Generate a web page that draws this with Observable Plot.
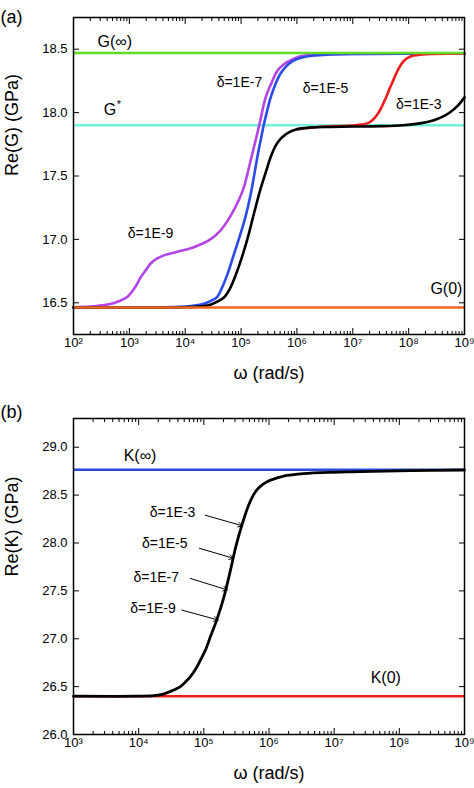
<!DOCTYPE html>
<html>
<head>
<meta charset="utf-8">
<script src="https://cdn.jsdelivr.net/npm/d3@7"></script>
<script src="https://cdn.jsdelivr.net/npm/@observablehq/plot@0.6"></script>
<style>
  body { margin: 0; background: #fff; }
  #wrap { width: 474px; height: 788px; overflow: hidden; }
  #wrap svg { display: block; }
</style>
</head>
<body>
<div id="wrap"></div>
<script>
// Frequencies are stored as log10(ω).
// ---------- panel (a): Re(G) ----------
const omegaTicksA = [1e2, 1e3, 1e4, 1e5, 1e6, 1e7, 1e8, 1e9];
const gTicks = [16.5, 17.0, 17.5, 18.0, 18.5];
const gRefValues = [18.47, 17.90, 16.463];   // G(∞), G*, G(0)

// δ = 1E-3 (black)
const logWD3 = [2, 3.5, 4.0, 4.25, 4.45, 4.6, 4.7, 4.81, 4.93, 5.03, 5.13, 5.24, 5.35, 5.45, 5.53, 5.62, 5.71, 5.84, 6.0, 6.25, 6.6, 7, 7.5, 7.9, 8.2, 8.45, 8.62, 8.75, 8.88, 9];
const gD3 = [16.463, 16.463, 16.465, 16.47, 16.485, 16.515, 16.545, 16.62, 16.75, 16.88, 17.03, 17.22, 17.40, 17.54, 17.65, 17.74, 17.795, 17.84, 17.868, 17.882, 17.887, 17.89, 17.893, 17.90, 17.915, 17.94, 17.97, 18.005, 18.055, 18.12];
// δ = 1E-5 (red)
const logWD5 = [6.0, 6.5, 7.0, 7.15, 7.26, 7.35, 7.44, 7.5, 7.56, 7.62, 7.67, 7.73, 7.79, 7.85, 7.91, 8.0, 8.09, 8.25, 8.39, 9];
const gD5 = [17.87, 17.89, 17.897, 17.905, 17.915, 17.94, 17.985, 18.03, 18.085, 18.145, 18.20, 18.26, 18.32, 18.37, 18.405, 18.435, 18.45, 18.458, 18.462, 18.466];
// δ = 1E-7 (blue)
const logWD7 = [2, 3, 3.8, 4.0, 4.2, 4.35, 4.46, 4.57, 4.66, 4.76, 4.87, 4.98, 5.08, 5.16, 5.24, 5.3, 5.35, 5.41, 5.47, 5.53, 5.62, 5.71, 5.82, 5.94, 6.06, 6.3, 6.6, 7, 9];
const gD7 = [16.463, 16.463, 16.466, 16.47, 16.48, 16.495, 16.515, 16.545, 16.62, 16.73, 16.88, 17.03, 17.18, 17.33, 17.52, 17.67, 17.78, 17.91, 18.02, 18.12, 18.23, 18.31, 18.37, 18.41, 18.43, 18.45, 18.458, 18.462, 18.466];
// δ = 1E-9 (purple)
const logWD9 = [2, 2.3, 2.5, 2.66, 2.8, 2.96, 3.1, 3.2, 3.3, 3.38, 3.5, 3.62, 3.8, 3.92, 4.1, 4.27, 4.45, 4.63, 4.75, 4.87, 4.96, 5.05, 5.17, 5.29, 5.37, 5.44, 5.55, 5.65, 5.76, 5.88, 6.03, 6.3, 6.5, 9];
const gD9 = [16.465, 16.47, 16.48, 16.49, 16.51, 16.545, 16.62, 16.70, 16.76, 16.81, 16.85, 16.874, 16.895, 16.91, 16.93, 16.96, 17.0, 17.07, 17.14, 17.23, 17.31, 17.41, 17.62, 17.835, 17.99, 18.12, 18.24, 18.33, 18.38, 18.41, 18.44, 18.455, 18.46, 18.466];

const labelTextA = ["δ=1E-7", "δ=1E-5", "δ=1E-3", "δ=1E-9"];
const labelLogWA = [4.97, 6.51, 8.18, 3.38];
const labelValueA = [18.24, 18.19, 18.06, 17.05];
const refLabelTextA = ["G(∞)", "G", "G(0)"];
const refLabelLogWA = [2.43, 2.54, 8.39];
const refLabelValueA = [18.555, 18.02, 16.61];

// ---------- panel (b): Re(K) ----------
const omegaTicksB = [1e3, 1e4, 1e5, 1e6, 1e7, 1e8, 1e9];
const kTicks = [26.0, 26.5, 27.0, 27.5, 28.0, 28.5, 29.0];
const kRefValues = [28.765, 26.40];          // K(∞), K(0)
const logWK = [3, 4, 4.23, 4.36, 4.49, 4.64, 4.72, 4.80, 4.88, 4.95, 5.03, 5.10, 5.20, 5.31, 5.41, 5.49, 5.59, 5.69, 5.76, 5.82, 5.9, 5.97, 6.08, 6.18, 6.28, 6.64, 7.4, 8.17, 9];
const kAll = [26.40, 26.40, 26.405, 26.42, 26.45, 26.50, 26.55, 26.61, 26.69, 26.78, 26.89, 27.02, 27.20, 27.44, 27.72, 27.96, 28.20, 28.40, 28.50, 28.56, 28.61, 28.64, 28.67, 28.69, 28.705, 28.73, 28.745, 28.755, 28.762];

const arrowText = ["δ=1E-3", "δ=1E-5", "δ=1E-7", "δ=1E-9"];
const arrowTextLogW = [4.52, 4.40, 4.27, 4.22];
const arrowTextValue = [28.32, 27.99, 27.64, 27.32];
const arrowFromLogW = [5.02, 4.93, 4.79, 4.66];
const arrowFromValue = [28.29, 27.945, 27.63, 27.30];
const arrowToLogW = [5.59, 5.455, 5.36, 5.22];
const arrowToValue = [28.18, 27.84, 27.51, 27.195];
const refLabelTextB = ["K(∞)", "K(0)"];
const refLabelLogWB = [3.77, 7.56];
const refLabelValueB = [28.91, 26.59];

// ---------- helpers ----------
const SUP = "⁰¹²³⁴⁵⁶⁷⁸⁹";
const powLabel = d => "10" + String(Math.round(Math.log10(d))).split("").map(c => SUP[+c]).join("");
const minorTicks = (lo, hi) => {
  const out = [];
  for (let e = lo; e < hi; e++) for (let m = 2; m <= 9; m++) out.push(m * Math.pow(10, e));
  return out;
};
const w = e => Math.pow(10, e);
const series = (lw, vals, name) => lw.map((e, i) => ({w: w(e), v: vals[i], s: name}));
const FONT = "'Liberation Sans', Arial, sans-serif";

function frameAxes(majorX, minorX, yTicks, yLabel) {
  return [
    Plot.axisX(minorX, {anchor: "bottom", tickSize: -3, tickFormat: () => "", label: null}),
    Plot.axisX(minorX, {anchor: "top", tickSize: -3, tickFormat: () => "", label: null}),
    Plot.axisX(majorX, {anchor: "bottom", tickSize: -6, tickFormat: () => "", label: null}),
    Plot.axisX(majorX, {anchor: "top", tickSize: -6, tickFormat: () => "", label: null}),
    Plot.axisX(majorX, {anchor: "bottom", tickSize: 0, tickPadding: 3, tickFormat: powLabel, fontSize: 13, label: null}),
    Plot.axisY(yTicks, {anchor: "left", tickSize: -6, tickFormat: () => "", label: null}),
    Plot.axisY(yTicks, {anchor: "right", tickSize: -6, tickFormat: () => "", label: null}),
    Plot.axisY(yTicks, {anchor: "left", tickSize: 0, tickPadding: 6, tickFormat: d3.format(".1f"), fontSize: 13, label: null}),
    Plot.frame({stroke: "black", strokeWidth: 1.5}),
    Plot.text([yLabel], {frameAnchor: "left", rotate: -90, dx: -61, fontSize: 18}),
    Plot.text(["ω (rad/s)"], {frameAnchor: "bottom", dy: 44, fontSize: 18})
  ];
}

// ---------- panel (a) ----------
const dataA = [
  ...series(logWD9, gD9, "d9"),
  ...series(logWD7, gD7, "d7"),
  ...series(logWD5, gD5, "d5"),
  ...series(logWD3, gD3, "d3")
];
const colorA = {d9: "#b544e6", d7: "#2a4be8", d5: "#ee1c1c", d3: "#000000"};

const plotA = Plot.plot({
  width: 474,
  height: 394,
  marginLeft: 73,
  marginRight: 10,
  marginTop: 17,
  marginBottom: 60,
  style: {fontFamily: FONT, background: "#fff", color: "#000", overflow: "visible"},
  x: {type: "log", domain: [1e2, 1e9], axis: null},
  y: {domain: [16.25, 18.75], axis: null},
  marks: [
    Plot.ruleY([gRefValues[1]], {stroke: "#72f0d8", strokeWidth: 2.5}),
    ...["d9", "d7", "d5", "d3"].map(s =>
      Plot.line(dataA.filter(d => d.s === s), {x: "w", y: "v", stroke: colorA[s], strokeWidth: 2.6, curve: "catmull-rom"})),
    Plot.ruleY([gRefValues[0]], {stroke: "#62dc20", strokeWidth: 2.5}),
    Plot.ruleY([gRefValues[2]], {stroke: "#f0641e", strokeWidth: 2.5}),
    ...frameAxes(omegaTicksA, minorTicks(2, 9), gTicks, "Re(G) (GPa)"),
    Plot.text(labelTextA, {x: (d, i) => w(labelLogWA[i]), y: (d, i) => labelValueA[i], text: d => d, fontSize: 14}),
    Plot.text(refLabelTextA, {x: (d, i) => w(refLabelLogWA[i]), y: (d, i) => refLabelValueA[i], text: d => d, fontSize: 16, textAnchor: "start"}),
    Plot.text(["*"], {x: [w(refLabelLogWA[1])], y: [refLabelValueA[1]], text: d => d, fontSize: 11, dx: 13, dy: -6, textAnchor: "start"}),
    Plot.text(["(a)"], {frameAnchor: "top-left", dx: -73, dy: -7, fontSize: 18, textAnchor: "start"})
  ]
});

// ---------- panel (b) ----------
const dataB = series(logWK, kAll, "k");
const plotB = Plot.plot({
  width: 474,
  height: 394,
  marginLeft: 73,
  marginRight: 10,
  marginTop: 24,
  marginBottom: 54,
  style: {fontFamily: FONT, background: "#fff", color: "#000", overflow: "visible"},
  x: {type: "log", domain: [1e3, 1e9], axis: null},
  y: {domain: [26.0, 29.3], axis: null},
  marks: [
    Plot.ruleY([kRefValues[0]], {stroke: "#2a4bd8", strokeWidth: 2.5}),
    Plot.ruleY([kRefValues[1]], {stroke: "#ee1c1c", strokeWidth: 2.5}),
    Plot.line(dataB, {x: "w", y: "v", stroke: "#000", strokeWidth: 2.8, curve: "catmull-rom"}),
    ...frameAxes(omegaTicksB, minorTicks(3, 9), kTicks, "Re(K) (GPa)"),
    Plot.arrow(arrowText, {
      x1: (d, i) => w(arrowFromLogW[i]), y1: (d, i) => arrowFromValue[i],
      x2: (d, i) => w(arrowToLogW[i]), y2: (d, i) => arrowToValue[i],
      stroke: "#000", strokeWidth: 1, headLength: 7, bend: 0
    }),
    Plot.text(arrowText, {x: (d, i) => w(arrowTextLogW[i]), y: (d, i) => arrowTextValue[i], text: d => d, fontSize: 14}),
    Plot.text(refLabelTextB, {x: (d, i) => w(refLabelLogWB[i]), y: (d, i) => refLabelValueB[i], text: d => d, fontSize: 16, textAnchor: "start"}),
    Plot.text(["(b)"], {frameAnchor: "top-left", dx: -73, dy: -13, fontSize: 18, textAnchor: "start"})
  ]
});

const wrap = document.getElementById("wrap");
wrap.appendChild(plotA);
wrap.appendChild(plotB);
</script>
</body>
</html>
